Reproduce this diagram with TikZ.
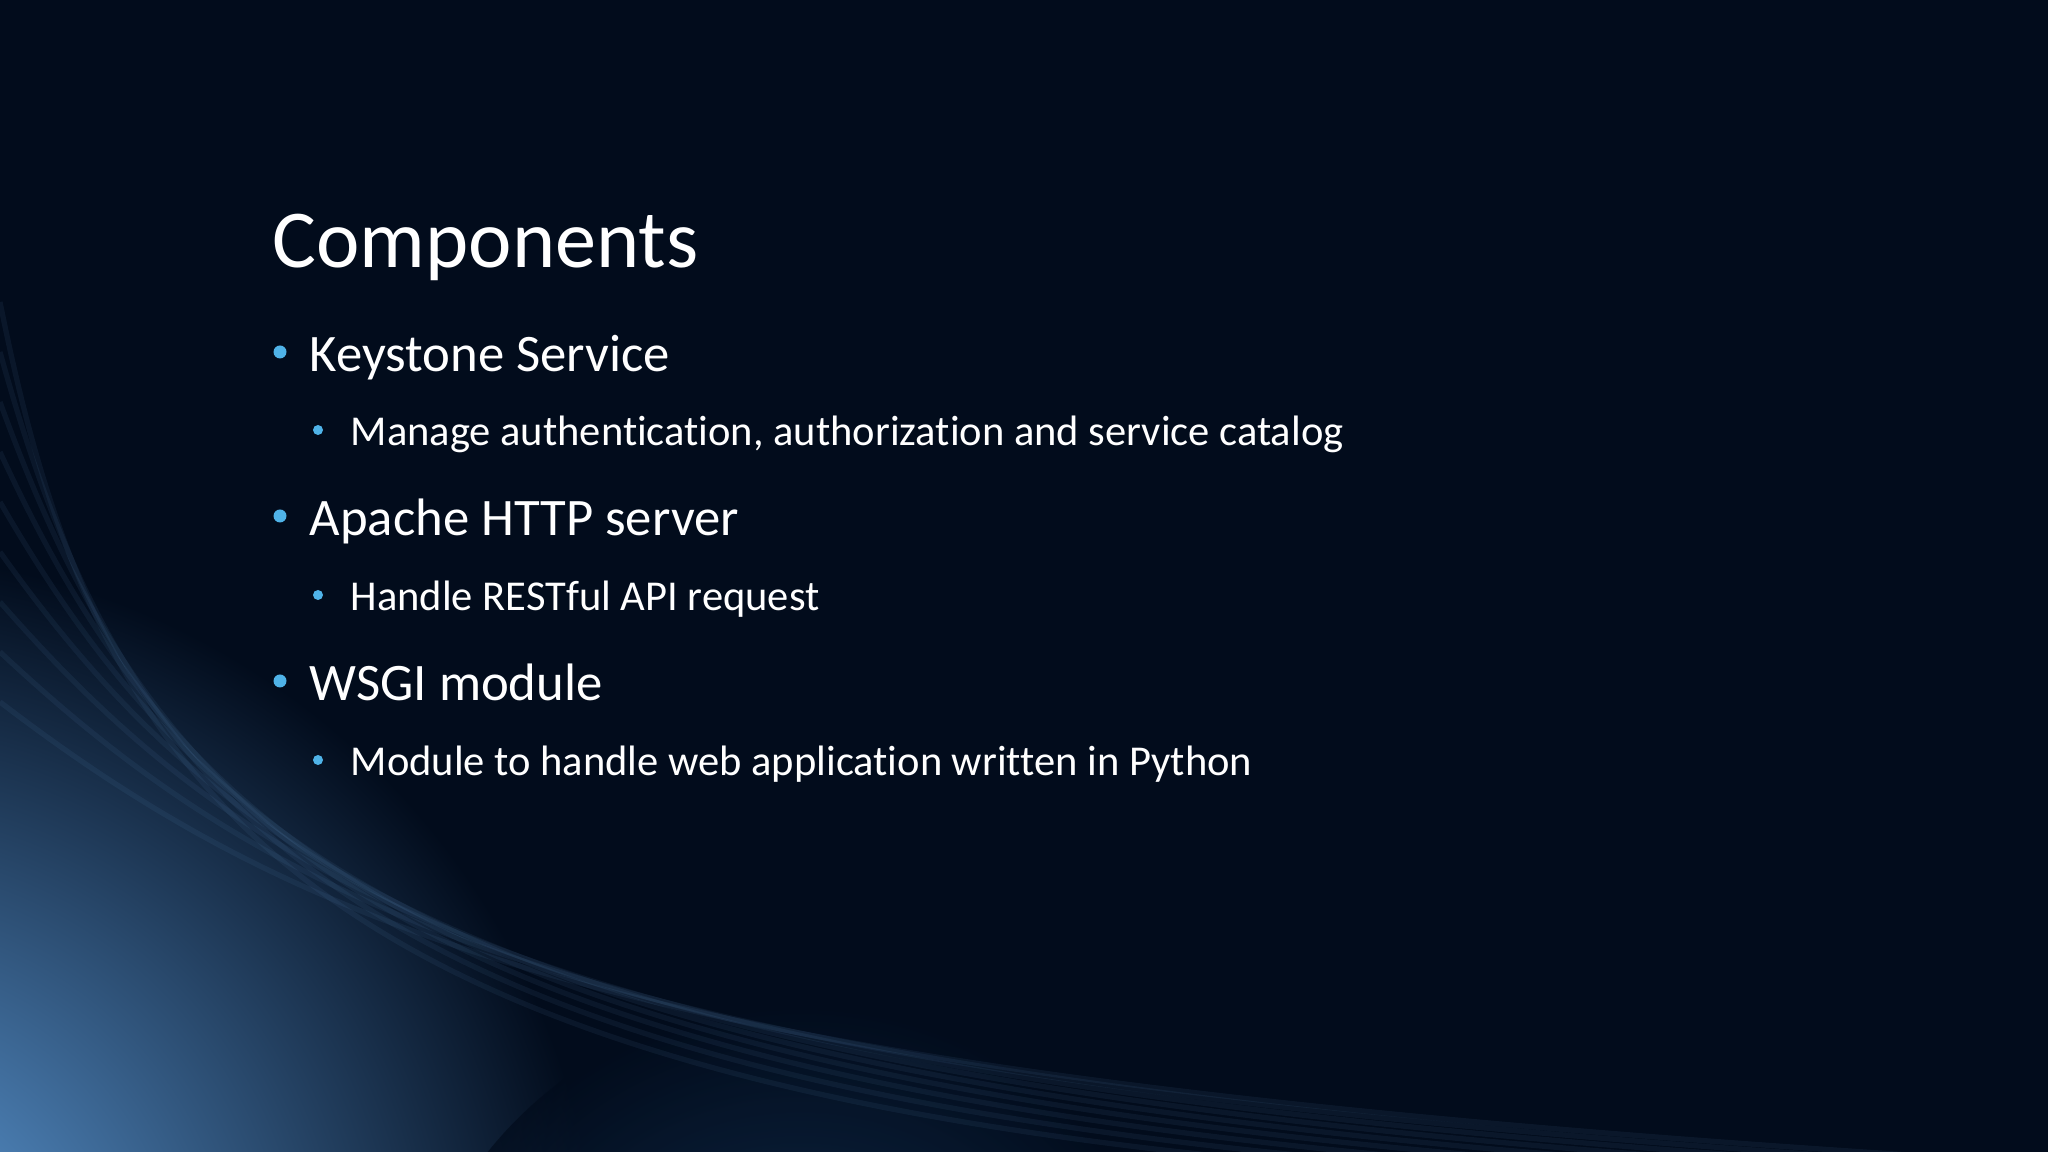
\documentclass[tikz,border=0pt]{standalone}
\usepackage{fontspec}
\setmainfont[Ligatures=NoCommon]{Carlito}
\definecolor{bg}{HTML}{020C1C}
\definecolor{glow}{HTML}{3D8FE0}
\definecolor{bul}{HTML}{4FB3E8}
\tikzset{
 title/.style={anchor=base west,text=white,font=\fontsize{23.4}{28}\selectfont,inner sep=0},
 lone/.style={anchor=base west,text=white,font=\fontsize{15}{18}\selectfont,inner sep=0},
 ltwo/.style={anchor=base west,text=white,font=\fontsize{12.1}{14}\selectfont,inner sep=0},
 dot/.style={circle,fill=bul,inner sep=0,minimum size=#1},
}
\begin{document}
\begin{tikzpicture}[x=1cm,y=1cm]
\fill[bg] (0,0) rectangle (20.48,11.52);
\useasboundingbox (0,0) rectangle (20.48,11.52);
\begin{scope}
\clip (0,0) rectangle (20.48,11.52);
\shade[inner color=glow!80,outer color=bg] (-1.5,-1.5) circle (7.5);
\shade[inner color=glow!40!bg,outer color=bg,opacity=0.7] (8,-2.5) circle (4);
\foreach \i in {0,...,8}{
 \draw[glow!70!white,opacity=0.07,line width=1.5pt] (0,{8.5-0.5*\i}) .. controls ({1+0.3*\i},{3.5-0.2*\i}) and ({3+0.5*\i},{0.6}) .. ({14+\i},-0.2);
}
\end{scope}
\node[title] (t) at (2.72,8.84) {Components};
\node[dot=0.13cm] (b1) at (2.8,8.0) {};
\node[lone] (l1) at (3.09,7.8) {Keystone Service};
\node[dot=0.1cm] (b1a) at (3.18,7.22) {};
\node[ltwo] (l1a) at (3.5,7.06) {Manage authentication, authorization and service catalog};
\node[dot=0.13cm] (b2) at (2.8,6.36) {};
\node[lone] (l2) at (3.09,6.16) {Apache HTTP server};
\node[dot=0.1cm] (b2a) at (3.18,5.57) {};
\node[ltwo] (l2a) at (3.5,5.41) {Handle RESTful API request};
\node[dot=0.13cm] (b3) at (2.8,4.71) {};
\node[lone] (l3) at (3.09,4.51) {WSGI module};
\node[dot=0.1cm] (b3a) at (3.18,3.92) {};
\node[ltwo] (l3a) at (3.5,3.76) {Module to handle web application written in Python};
\end{tikzpicture}
\end{document}
